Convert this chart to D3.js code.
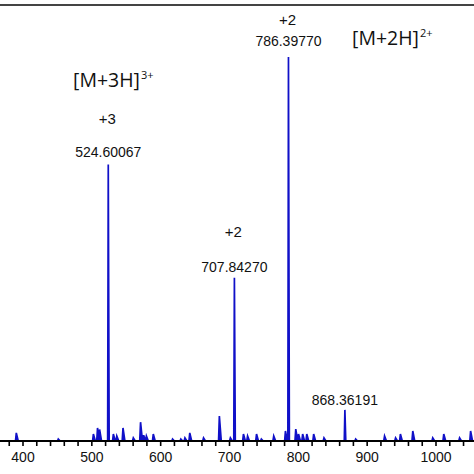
<!DOCTYPE html>
<html>
<head>
<meta charset="utf-8">
<script src="https://cdn.jsdelivr.net/npm/d3@7"></script>
<style>
  body { margin: 0; background: #fff; }
  svg { display: block; }
  text { font-family: "Liberation Sans", Arial, sans-serif; fill: #111; }
  .ion { font-family: "Open Sans", "Liberation Sans", sans-serif; }
</style>
</head>
<body>
<div class="spectrum"></div>
<script>
//labelled peaks (m/z, relative intensity %)
const mainMz = [524.60067, 707.84270, 786.39770, 868.36191];
const mainInt = [72, 42.5, 100, 8.1];
const mainCharge = ['+3', '+2', '+2', ''];

//small peaks
const minorMz = [391, 452, 503, 509, 512, 532, 537, 546, 561, 571.5, 576, 580, 590, 618, 630, 636, 643, 663, 686,
                 702, 721, 727, 740, 747, 765, 782, 797, 801, 807, 813, 823, 838, 884, 926, 942, 949, 967, 996, 1012, 1035, 1051];
const minorInt = [2.1, 0.5, 1.8, 3.4, 3.0, 1.8, 1.3, 3.4, 0.8, 4.9, 1.5, 1.3, 1.8, 0.5, 0.5, 0.8, 2.1, 0.8, 6.5,
                  0.8, 1.8, 1.3, 1.8, 0.5, 1.3, 2.6, 3.1, 1.8, 1.8, 1.8, 1.8, 0.8, 0.5, 1.3, 0.8, 1.8, 2.6, 0.8, 1.8, 0.8, 2.6];

const tickVals = [400, 500, 600, 700, 800, 900, 1000];

const W = 474, H = 474;
const baseY = 441;

const xScale = d3.scaleLinear().domain([400, 1000]).range([22.5, 435.5]);
const yScale = d3.scaleLinear().domain([0, 100]).range([baseY, 57]);

const svg = d3.select('.spectrum').append('svg')
    .attr('width', W).attr('height', H);

//top frame line
svg.append('line')
    .attr('x1', 0).attr('x2', W).attr('y1', 5).attr('y2', 5)
    .attr('stroke', '#444').attr('stroke-width', 2.2);

//build the spectrum trace from the peak lists
const peaks = mainMz.map((m, i) => ({m: m, v: mainInt[i], main: true}))
    .concat(minorMz.map((m, i) => ({m: m, v: minorInt[i], main: false})))
    .sort((a, b) => a.m - b.m);

const trace = [{m: 360, v: 0}];
peaks.forEach(p => {
    const wl = p.main ? 0.9 : 1.2, wr = p.main ? 1.3 : 2.8;
    trace.push({m: p.m - wl, v: 0}, {m: p.m, v: p.v}, {m: p.m + wr, v: 0});
});
trace.push({m: 1070, v: 0});

const line = d3.line().x(d => xScale(d.m)).y(d => yScale(d.v));

svg.append('path')
    .datum(trace)
    .attr('d', line)
    .attr('fill', '#1010c8')
    .attr('stroke', '#1010c8')
    .attr('stroke-width', 1.7)
    .attr('stroke-linejoin', 'miter');

//x axis, minor ticks every 20
const xAxis = d3.axisBottom(xScale)
    .tickValues(d3.range(380, 1061, 20))
    .tickFormat(d => tickVals.includes(d) ? d : '')
    .tickSizeInner(5)
    .tickSizeOuter(0);

const axisG = svg.append('g')
    .attr('transform', `translate(0, ${baseY})`)
    .call(xAxis);
axisG.select('.domain').remove();
axisG.append('line')
    .attr('x1', 0).attr('x2', W)
    .attr('stroke', '#000').attr('stroke-width', 2);
axisG.selectAll('.tick line').attr('stroke', '#000').attr('stroke-width', 1.6);
axisG.selectAll('.tick text')
    .attr('y', 11)
    .style('font-size', '14px')
    .style('font-family', '"Liberation Sans", Arial, sans-serif')
    .attr('fill', '#111');

//peak labels: gap from peak top to number, number to charge
const numGap = [8, 6, 11, 5];
const chargeGap = [33, 35, 21, 0];
const labels = svg.append('g');
mainMz.forEach((m, i) => {
    const x = xScale(m), ny = yScale(mainInt[i]) - numGap[i];
    labels.append('text')
        .attr('x', x).attr('y', ny)
        .attr('text-anchor', 'middle')
        .style('font-size', '14px')
        .text(m.toFixed(5));
    if (mainCharge[i]) {
        labels.append('text')
            .attr('x', x - 1).attr('y', ny - chargeGap[i])
            .attr('text-anchor', 'middle')
            .style('font-size', '15px')
            .text(mainCharge[i]);
    }
});

//ion annotations
function ion(x, y, base, sup) {
    const t = svg.append('text').attr('class', 'ion')
        .attr('x', x).attr('y', y)
        .style('font-size', '19.5px');
    t.append('tspan').text(base);
    t.append('tspan').attr('dx', 1).attr('dy', -8).style('font-size', '11px').text(sup);
}
ion(73, 87, '[M+3H]', '3+');
ion(352, 45, '[M+2H]', '2+');
</script>
</body>
</html>
